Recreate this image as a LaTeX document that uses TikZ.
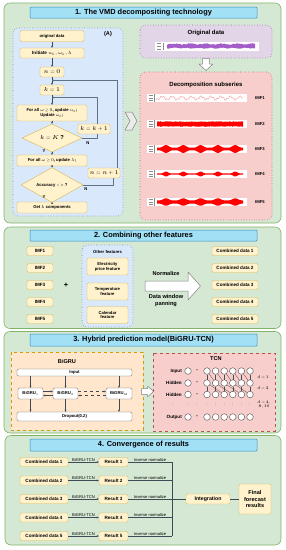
\documentclass[tikz,border=0pt]{standalone}
\usepackage{fontspec}
\usepackage{unicode-math}
\setmainfont{Liberation Sans}
\setmathfont{Latin Modern Math}
\usetikzlibrary{shapes.geometric,arrows.meta,calc}
\definecolor{gfill}{HTML}{D5E8D4}
\definecolor{gdraw}{HTML}{82B366}
\definecolor{tfill}{HTML}{A2E0F6}
\definecolor{tdraw}{HTML}{2E8BC0}
\definecolor{bfill}{HTML}{DAE8FC}
\definecolor{bdraw}{HTML}{6C8EBF}
\definecolor{yfill}{HTML}{FFF2CC}
\definecolor{ydraw}{HTML}{D6B656}
\definecolor{pfill}{HTML}{E1D5E7}
\definecolor{pdraw}{HTML}{9673A6}
\definecolor{rfill}{HTML}{F8CECC}
\definecolor{rdraw}{HTML}{B85450}
\definecolor{ofill}{HTML}{FFE6CC}
\definecolor{odraw}{HTML}{D79B00}
\definecolor{sigred}{HTML}{FF0000}
\definecolor{sigpink}{HTML}{F4A0A8}
\definecolor{sigpurple}{HTML}{A45CC8}
\definecolor{lncol}{HTML}{3F4A55}
\definecolor{loopcol}{HTML}{5E7385}
\newcommand{\fsT}{\fontsize{7.4}{8.4}\selectfont\bfseries}
\newcommand{\fsH}{\fontsize{6}{7}\selectfont\bfseries}
\newcommand{\fsS}{\fontsize{4.2}{4.9}\selectfont\bfseries}
\newcommand{\fsM}{\fontsize{4.6}{5.6}\selectfont\bfseries}
\newcommand{\fsL}{\fontsize{5.6}{6.6}\selectfont\bfseries}
\newcommand{\fsX}{\fontsize{4.1}{4.8}\selectfont}
\newcommand{\fsQ}{\fontsize{5.8}{6.6}\selectfont\bfseries}
\begin{document}
\begin{tikzpicture}[x=1pt,y=-1pt,
  panel/.style={draw=gdraw,fill=gfill,rounded corners=6pt,line width=0.6pt},
  titlebar/.style={draw=tdraw,fill=tfill,line width=0.5pt,inner sep=0pt,font=\fsT,rounded corners=0.8pt},
  ybox/.style={draw=ydraw,fill=yfill,rounded corners=1.4pt,line width=0.4pt,inner sep=0pt,font=\fsS,align=center},
  mbox/.style={ybox,font=\fsM},
  ydiam/.style={diamond,draw=ydraw,fill=yfill,line width=0.4pt,inner sep=0pt,font=\fsS},
  wbox/.style={draw=black!60,fill=white,rounded corners=1.4pt,line width=0.4pt,inner sep=0pt,font=\fsS},
  arr/.style={draw=lncol,line width=0.5pt,-{Stealth[length=2.2pt,width=2pt]}},
  loopln/.style={draw=loopcol,line width=0.7pt},
  looparr/.style={loopln,-{Stealth[length=2.2pt,width=2pt]}},
  ln/.style={draw=lncol,line width=0.45pt},
  hollow/.style={draw=black!50,fill=white,line width=0.5pt,line join=round},
  circ/.style={circle,draw=black!70,fill=white,line width=0.4pt,minimum size=6.6pt,inner sep=0pt},
  tcnl/.style={draw=black!70,line width=0.3pt},
  lab/.style={inner sep=0pt,font=\fsS},
  declare function={sqc(\t)=0.5+0.5*cos(2*(\t-166)*10.4); bfour(\t)=sqc(\t)*sqc(\t); beight(\t)=bfour(\t)*bfour(\t);}
]
\useasboundingbox (0,0) rectangle (285,550);
\fill[white] (0,0) rectangle (285,550);
\pgfmathsetseed{7}
% ================= Section 1 =================
\draw[panel] (4,3) rectangle (281,223);
\node[titlebar,minimum width=227pt,minimum height=11pt] (t1) at (143.5,12.5) {1. The VMD decompositing technology};
\draw[draw=bdraw,fill=bfill,dotted,line width=0.6pt,rounded corners=5pt] (13,28) rectangle (123,216);
\node[font=\fsL,inner sep=0pt] (labA) at (108,34.5) {(A)};
\node[ybox,minimum width=64pt,minimum height=11pt] (od) at (52,36) {original data};
\node[ybox,minimum width=64pt,minimum height=10pt,font=\fontsize{4.6}{5.2}\selectfont\bfseries] (init) at (52,53) {Initiate $u_k, \omega_k, \lambda$};
\node[ybox,minimum width=24pt,minimum height=10pt,font=\fsQ] (n0) at (52,72) {$n=0$};
\node[ybox,minimum width=24pt,minimum height=10pt,font=\fsQ] (k1) at (52,90) {$k=1$};
\node[ybox,minimum width=70pt,minimum height=16pt] (upd) at (52,113) {For all $\omega\geq 0$, update $u_k$;\\Update $\omega_k$;};
\node[ydiam,minimum width=60pt,minimum height=16pt,font=\fsQ] (kK) at (52,138) {$k=K$ ?};
\node[ybox,minimum width=32pt,minimum height=10pt,font=\fsQ] (kk1) at (94,129) {$k=k+1$};
\node[ybox,minimum width=70pt,minimum height=11pt] (updl) at (52,160.5) {For all $\omega\geq 0$, update $\lambda$;};
\node[ybox,minimum width=32pt,minimum height=10pt,font=\fsQ] (nn1) at (104,173) {$n=n+1$};
\node[ydiam,minimum width=62pt,minimum height=16pt] (acc) at (52,185) {Accuracy $<\varepsilon$ ?};
\node[ybox,minimum width=70pt,minimum height=11pt] (get) at (52,207.5) {Get $k$ components};
\draw[arr] (od) -- (init);
\draw[arr] (init) -- (n0);
\draw[arr] (n0) -- (k1);
\draw[arr] (k1) -- (upd);
\draw[arr] (upd) -- (kK);
\draw[arr] (kK) -- (updl);
\draw[arr] (updl) -- (acc);
\draw[arr] (acc) -- (get);
\node[lab] (y1) at (44,151) {Y};
\node[lab] (y2) at (44,197.5) {Y};
\node[lab] (nA) at (88,143.5) {N};
\node[lab] (nB) at (86,189.5) {N};
\coordinate (j1) at (52,97.5);
\coordinate (j2) at (52,80.5);
\draw[loopln] (kK.east) -| ([xshift=3pt]kk1.south);
\draw[looparr] ([xshift=3pt]kk1.north) |- (j1);
\draw[loopln] (acc.east) -| ([xshift=9pt]nn1.south);
\draw[looparr] ([xshift=13pt]nn1.north) |- (j2);
% chevron
\draw[hollow,fill=black!8] (125,112) -- (132,112) -- (137,121) -- (132,130) -- (125,130) -- (130,121) -- cycle;
% original data
\draw[draw=pdraw,fill=pfill,dotted,line width=0.6pt,rounded corners=5pt] (140,25) rectangle (272,58);
\node[font=\fsH,inner sep=0pt] (odt) at (206,33) {Original data};
\fill[white] (155,42) rectangle (259,50.5);
\foreach \yy in {43.5,46.2,48.9} \draw[black!45,line width=0.35pt] (157,\yy) -- (161,\yy);
\draw[black!45,line width=0.3pt] (163,42.5) -- (163,50);
\fill[sigpurple] plot[domain=167:255,samples=110] (\x,{46.2-(1.7+0.9*rnd+0.5*sin((\x-155)*23))}) -- plot[domain=255:167,samples=110] (\x,{46.2+(1.5+0.8*rnd+0.3*sin((\x-155)*31))}) -- cycle;
% hollow down arrow
\draw[hollow] (202.5,58.5) -- (209.5,58.5) -- (209.5,64) -- (213,64) -- (206,70.5) -- (199,64) -- (202.5,64) -- cycle;
% decomposition box
\draw[draw=rdraw,fill=rfill,dotted,line width=0.6pt,rounded corners=5pt] (140,72) rectangle (272,220);
\node[font=\fsH,inner sep=0pt] (dst) at (206,85) {Decomposition subseries};
\foreach \cy/\nm in {98/1,124/2,149/3,174/4,202/5} {
  \fill[white] (147,\cy-4.2) rectangle (247,\cy+4.2);
  \foreach \dd in {-2.6,0,2.6} \draw[black!45,line width=0.35pt] (148.5,\cy+\dd) -- (152.5,\cy+\dd);
  \draw[black!45,line width=0.3pt] (154,\cy-3.6) -- (154,\cy+3.6);
  \node[font=\fsS,inner sep=0pt] (imfl\nm) at (260,\cy+0.5) {IMF\nm};
}
\draw[sigpink,line width=0.5pt] plot[domain=156:243,samples=160] (\x,{98+1.5*sin((\x-155)*37)+0.8*sin((\x-155)*109)});
\fill[sigred] plot[domain=157:243,samples=100] (\x,{124-(2.0+0.8*rnd)}) -- plot[domain=243:157,samples=100] (\x,{124+(2.0+0.8*rnd)}) -- cycle;
\fill[sigred] plot[domain=157:243,samples=120] (\x,{149-(1.3+2.6*bfour(\x))}) -- plot[domain=243:157,samples=120] (\x,{149+(1.3+2.6*bfour(\x))}) -- cycle;
\fill[sigred] plot[domain=157:243,samples=120] (\x,{174-(0.6+1.9*beight(\x))}) -- plot[domain=243:157,samples=120] (\x,{174+(0.6+1.9*beight(\x))}) -- cycle;
\fill[sigred] plot[domain=157:243,samples=120] (\x,{202-(1.6+2.1*bfour(\x))}) -- plot[domain=243:157,samples=120] (\x,{202+(1.6+2.1*bfour(\x))}) -- cycle;
% ================= Section 2 =================
\draw[panel] (4,227) rectangle (281,328.5);
\node[titlebar,minimum width=227pt,minimum height=11pt] (t2) at (143.5,235.5) {2. Combining other features};
\foreach \i/\yy in {1/251,2/268,3/285,4/302,5/319} {
  \node[mbox,minimum width=26pt,minimum height=9pt] (imf\i) at (40,\yy) {IMF\i};
  \node[mbox,minimum width=46pt,minimum height=9pt] (cb\i) at (235,\yy) {Combined data \i};
}
\node[font=\fontsize{7.5}{8}\selectfont\bfseries,inner sep=0pt] (plus) at (66,285) {+};
\draw[draw=bdraw,fill=bfill,dotted,line width=0.6pt,rounded corners=5pt] (82,245) rectangle (133,327);
\node[font=\fsS,inner sep=0pt] (oft) at (107.5,252) {Other features};
\node[mbox,minimum width=41pt,minimum height=17pt,font=\fsS] (elec) at (107.5,266.5) {Electricity\\price feature};
\node[mbox,minimum width=41pt,minimum height=17pt,font=\fsS] (temp) at (107.5,291.5) {Temperature\\feature};
\node[mbox,minimum width=41pt,minimum height=17pt,font=\fsS] (cal) at (107.5,315) {Calendar\\feature};
\draw[hollow] (145,281) -- (188,281) -- (188,272) -- (200.5,286) -- (188,300) -- (188,291) -- (145,291) -- cycle;
\node[font=\fsL,inner sep=0pt] (norm) at (166,273) {Normalize};
\node[font=\fsL,inner sep=0pt,align=center] (dwp) at (166,300.5) {Data window\\panning};
% ================= Section 3 =================
\draw[panel] (4,331.5) rectangle (281,433);
\node[titlebar,minimum width=227pt,minimum height=12pt] (t3) at (143.5,340) {3. Hybrid prediction model(BiGRU-TCN)};
\draw[draw=odraw,fill=ofill,dashed,line width=0.6pt] (11,352) rectangle (143,430);
\node[font=\fsL,inner sep=0pt] (bgt) at (67,361) {BiGRU};
\node[wbox,minimum width=115pt,minimum height=7pt] (inp) at (74.5,372.5) {Input};
\node[wbox,minimum width=25pt,minimum height=11pt] (g1) at (30.5,393.5) {BiGRU$_1$};
\node[wbox,minimum width=25pt,minimum height=11pt] (g2) at (65.5,393.5) {BiGRU$_2$};
\node[wbox,minimum width=26pt,minimum height=11pt] (gM) at (119,393.5) {BiGRU$_M$};
\node[wbox,minimum width=115pt,minimum height=9pt] (drop) at (74.5,416.5) {Dropout(0.2)};
\foreach \g in {g1,g2,gM} {
  \draw[arr] (inp.south -| \g) -- (\g.north);
  \draw[arr] (\g.south) -- (drop.north -| \g);
}
\draw[arr] ([yshift=2pt]g1.east) -- ([yshift=2pt]g2.west);
\draw[arr] ([yshift=-2pt]g2.west) -- ([yshift=-2pt]g1.east);
\draw[arr,dashed] ([yshift=2pt]g2.east) -- ([yshift=2pt]gM.west);
\draw[arr,dashed] ([yshift=-2pt]gM.west) -- ([yshift=-2pt]g2.east);
\draw[hollow] (141.5,388.5) -- (147.5,388.5) -- (147.5,386) -- (153.5,391.5) -- (147.5,397) -- (147.5,394.5) -- (141.5,394.5) -- cycle;
\draw[draw=rdraw,fill=rfill,dashed,line width=0.6pt] (153,353) rectangle (275,431);
\node[font=\fsL,inner sep=0pt] (tcnt) at (216,359) {TCN};
\foreach \r/\yy/\lb in {0/371/Input,1/383/Hidden,2/394.5/Hidden,3/417/Output} {
  \node[font=\fsM,inner sep=0pt,anchor=east] (tl\r) at (182,\yy) {\lb};
  \node[circ] (f\r) at (188,\yy) {};
  \node[font=\fsS,inner sep=0pt] (ds\r) at (197,\yy) {\textendash};
  \foreach \i in {0,...,5} \node[circ] (c\r\i) at ({207+8.6*\i},\yy) {};
}
\foreach \i in {0,...,5} {
  \draw[tcnl] (c0\i) -- (c1\i);
  \draw[tcnl] (c1\i) -- (c2\i);
}
\foreach \i/\j in {0/1,1/2,2/3,3/4,4/5} \draw[tcnl] (c0\i) -- (c1\j);
\foreach \i/\j in {0/2,1/3,2/4,3/5} \draw[tcnl] (c1\i) -- (c2\j);
\foreach \xx [count=\k] in {173,188,197,207,215.6,224.2,232.8,241.4,250} \node[inner sep=0pt,font=\fontsize{3.6}{4}\selectfont] (vd\k) at (\xx,403.5) {$\vdots$};
\node[inner sep=0pt,font=\fsX] (d1) at (263,377) {$d=1$};
\node[inner sep=0pt,font=\fsX] (d2) at (263,388.5) {$d=2$};
\node[inner sep=0pt,font=\fsX,align=center] (d4) at (264,404.5) {$d=4,$\\$8, 16$};
% ================= Section 4 =================
\draw[panel] (5,435.5) rectangle (281,545);
\node[titlebar,minimum width=227pt,minimum height=12pt] (t4) at (143.5,445) {4. Convergence of results};
\foreach \i/\yy in {1/462,2/480.5,3/499,4/517.5,5/536} {
  \node[mbox,minimum width=48pt,minimum height=9pt] (cd\i) at (44,\yy) {Combined data \i};
  \node[mbox,minimum width=29pt,minimum height=9pt] (rs\i) at (113.5,\yy) {Result \i};
  \coordinate (jn\i) at (172,\yy);
  \draw[arr] (cd\i) -- node[above,inner sep=0.7pt,font=\fsX] {BiGRU-TCN} (rs\i);
  \draw[ln] (rs\i) -- node[above,inner sep=0.7pt,font=\fsX] {Inverse normalize} (jn\i);
}
\draw[ln] (jn1) -- (jn5);
\node[mbox,minimum width=44pt,minimum height=10pt,font=\fontsize{5.2}{6}\selectfont\bfseries] (integ) at (208,499) {Integration};
\node[mbox,minimum width=32pt,minimum height=30pt,font=\fontsize{5.6}{6.6}\selectfont\bfseries] (fin) at (255,499) {Final\\forecast\\results};
\draw[ln] (jn3) -- (integ);
\draw[ln] (integ) -- (fin);
\end{tikzpicture}
\end{document}
